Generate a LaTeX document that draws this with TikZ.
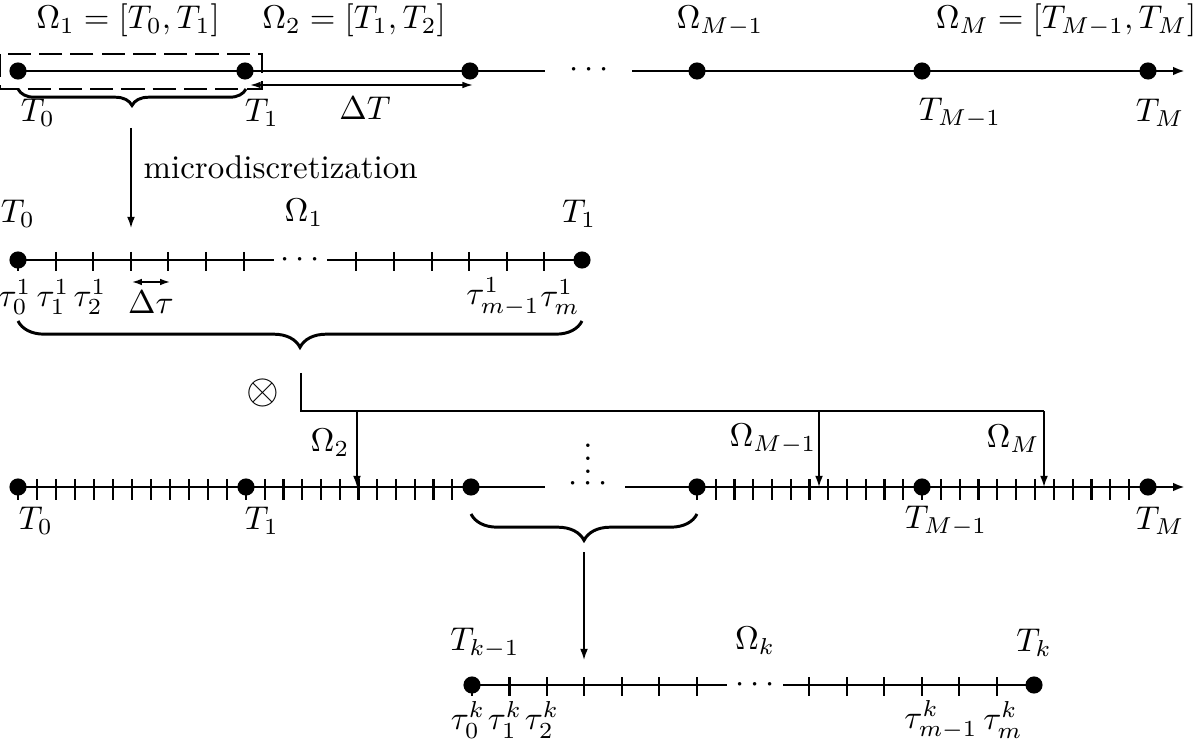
\documentclass[tikz,border=0pt]{standalone}
\usetikzlibrary{decorations.pathreplacing,arrows.meta}
\begin{document}
\begin{tikzpicture}[x=0.3036pt,y=-0.3036pt,
  axis/.style={line width=0.8pt},
  tk/.style={line width=0.65pt},
  dot/.style={circle,fill=black,inner sep=0pt,minimum size=5.2pt},
  conn/.style={line width=0.5pt,-{Latex[length=3.4pt,width=2.4pt]}},
  brc/.style={decorate,decoration={brace,mirror,amplitude=#1},line width=0.9pt},
  lbl/.style={inner sep=0pt}
]
\useasboundingbox (0,0) rectangle (1200,742);

% ---------------- top line ----------------
\foreach \n/\x in {a0/18,a1/245,a2/470,a3/697,a4/922,a5/1148} \node[dot] (\n) at (\x,71) {};
\coordinate (ag1) at (545,71);
\coordinate (ag2) at (632,71);
\coordinate (aend) at (1185,71);
\draw[axis] (a0.center) -- (a1.center) -- (a2.center) -- (ag1);
\draw[axis,-{Latex[length=3.6pt,width=2.6pt]}] (ag2) -- (a3.center) -- (a4.center) -- (a5.center) -- (aend);
\node[lbl] (adots) at (589,70) {$\cdots$};
\draw[line width=0.6pt,dash pattern=on 7pt off 2.5pt] (0,54) rectangle (262,89);
\coordinate (dl) at (250,85);
\coordinate (dr) at (473,85);
\draw[line width=0.45pt,{Latex[length=3.2pt,width=2pt]}-{Latex[length=3.2pt,width=2pt]}] (dl) -- (dr);
\node[lbl] (dT) at (365,108) {$\Delta T$};
\coordinate (b1a) at (18,89);
\coordinate (b1b) at (246,89);
\draw[brc=5pt] (b1a) -- (b1b);

\node[lbl,anchor=base] (o1) at (128,29) {$\Omega_1=[T_0,T_1]$};
\node[lbl,anchor=base] (o2) at (354,29) {$\Omega_2=[T_1,T_2]$};
\node[lbl,anchor=base] (o3) at (720,29) {$\Omega_{M-1}$};
\node[lbl,anchor=base east] (o4) at (1197,29) {$\Omega_M=[T_{M-1},T_M]$};
\node[lbl] (la0) at (38,113) {$T_0$};
\node[lbl] (la1) at (262,113) {$T_1$};
\node[lbl] (la4) at (960,113) {$T_{M-1}$};
\node[lbl] (la5) at (1160,113) {$T_M$};

% microdiscretization arrow
\coordinate (m0) at (131,128);
\coordinate (m1) at (131,228);
\draw[conn] (m0) -- (m1);
\node[lbl,anchor=west] (mtxt) at (143,167) {microdiscretization};

% ---------------- second line ----------------
\node[dot] (b0) at (18,260) {};
\node[dot] (b1) at (582,260) {};
\foreach \k in {0,1,2,3,4,5,6,9,10,11,12,13,14} \draw[tk] ({18+37.6*\k},252) -- ({18+37.6*\k},271);
\coordinate (bg1) at (274,260);
\coordinate (bg2) at (327,260);
\draw[axis] (b0.center) -- (bg1);
\draw[axis] (bg2) -- (b1.center);
\node[lbl] (bdots) at (300,260) {$\cdots$};
\node[lbl] (lb0) at (18,214) {$T_0$};
\node[lbl] (lbo) at (304,213) {$\Omega_1$};
\node[lbl] (lb1) at (579,214) {$T_1$};
\node[lbl] (tb0) at (15,297) {$\tau_0^1$};
\node[lbl] (tb1) at (53,297) {$\tau_1^1$};
\node[lbl] (tb2) at (90,297) {$\tau_2^1$};
\node[lbl] (tbm1) at (503,297) {$\tau_{m-1}^1$};
\node[lbl] (tbm) at (560,297) {$\tau_m^1$};
\coordinate (dtl) at (132,282);
\coordinate (dtr) at (170,282);
\draw[line width=0.45pt,{Latex[length=3pt,width=2pt]}-{Latex[length=3pt,width=2pt]}] (dtl) -- (dtr);
\node[lbl] (dtau) at (151,302) {$\Delta\tau$};
\coordinate (b2a) at (18,321);
\coordinate (b2b) at (582,321);
\draw[brc=8pt] (b2a) -- (b2b);

% otimes and connector
\node[lbl] (ot) at (263,393) {\scalebox{1.28}{$\otimes$}};
\coordinate (j0) at (301,373);
\coordinate (j1) at (301,411);
\coordinate (j2) at (1044,411);
\coordinate (jb1) at (357,411);
\coordinate (jb2) at (819,411);
\coordinate (t1) at (357,487);
\coordinate (t2) at (819,487);
\coordinate (t3) at (1044,487);
\draw[line width=0.55pt] (j0) -- (j1) -- (j2);
\draw[conn] (jb1) -- (t1);
\draw[conn] (jb2) -- (t2);
\draw[conn] (j2) -- (t3);
\node[lbl] (lo2) at (330,443) {$\Omega_2$};
\node[lbl] (loM1) at (773,439) {$\Omega_{M-1}$};
\node[lbl] (loM) at (1013,439) {$\Omega_M$};
\node[lbl] (vd) at (588,449) {$\vdots$};

% ---------------- third line ----------------
\foreach \n/\x in {c0/18,c1/246,c2/471,c3/697,c4/922,c5/1148} \node[dot] (\n) at (\x,487) {};
\foreach \s/\e in {18/246,246/471,697/922,922/1148} \foreach \k in {0,...,11} \draw[tk] ({\s+(\e-\s)*\k/12},479) -- ({\s+(\e-\s)*\k/12},500);
\coordinate (cg1) at (545,487);
\coordinate (cg2) at (625,487);
\coordinate (cend) at (1185,487);
\draw[axis] (c0.center) -- (c1.center) -- (c2.center) -- (cg1);
\draw[axis,-{Latex[length=3.6pt,width=2.6pt]}] (cg2) -- (c3.center) -- (c4.center) -- (c5.center) -- (cend);
\node[lbl] (cdots) at (588,484) {$\cdots$};
\node[lbl] (lc0) at (36,521) {$T_0$};
\node[lbl] (lc1) at (262,521) {$T_1$};
\node[lbl] (lc4) at (946,521) {$T_{M-1}$};
\node[lbl] (lc5) at (1160,521) {$T_M$};
\coordinate (b3a) at (471,514);
\coordinate (b3b) at (697,514);
\draw[brc=8pt] (b3a) -- (b3b);
\coordinate (k0) at (584,552);
\coordinate (k1) at (584,660);
\draw[conn] (k0) -- (k1);

% ---------------- fourth line ----------------
\node[dot] (e0) at (472,685) {};
\node[dot] (e1) at (1034,685) {};
\foreach \k in {0,1,2,3,4,5,6,9,10,11,12,13,14} \draw[tk] ({472+37.47*\k},677) -- ({472+37.47*\k},696);
\coordinate (eg1) at (727,685);
\coordinate (eg2) at (783,685);
\draw[axis] (e0.center) -- (eg1);
\draw[axis] (eg2) -- (e1.center);
\node[lbl] (edots) at (755,685) {$\cdots$};
\node[lbl] (le0) at (485,643) {$T_{k-1}$};
\node[lbl] (leo) at (755,641) {$\Omega_k$};
\node[lbl] (le1) at (1034,643) {$T_k$};
\node[lbl] (te0) at (468,720) {$\tau_0^k$};
\node[lbl] (te1) at (505,720) {$\tau_1^k$};
\node[lbl] (te2) at (542,720) {$\tau_2^k$};
\node[lbl] (tem1) at (941,720) {$\tau_{m-1}^k$};
\node[lbl] (tem) at (1003,720) {$\tau_m^k$};
\end{tikzpicture}
\end{document}
